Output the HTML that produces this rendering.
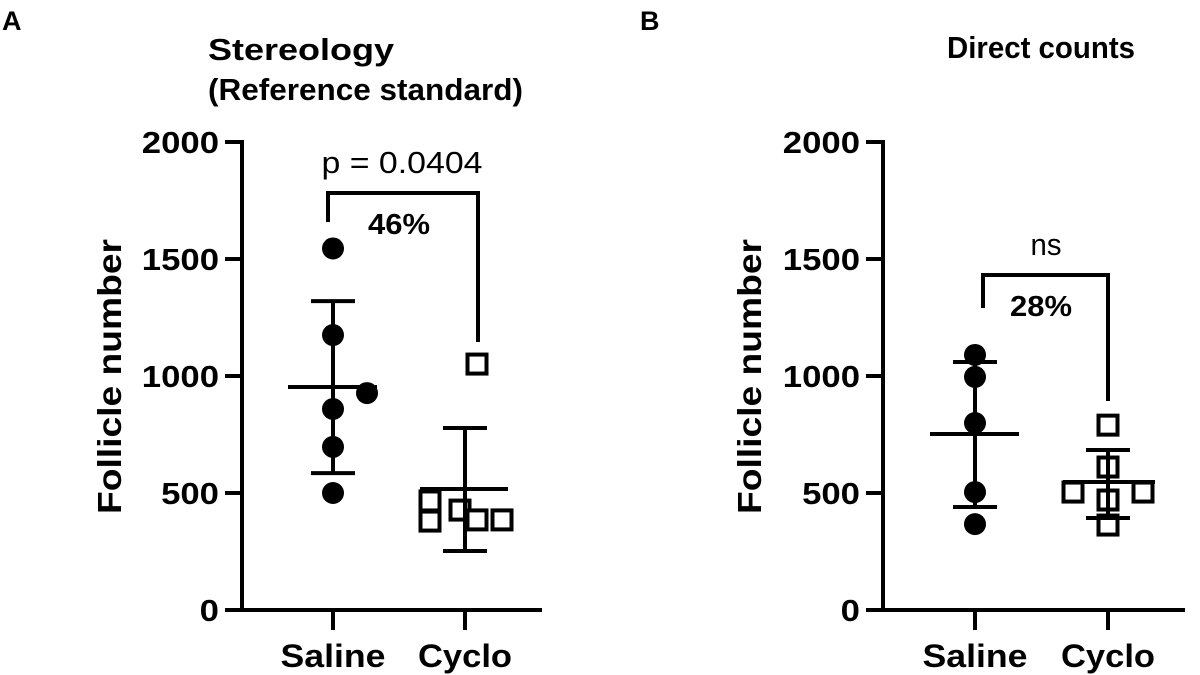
<!DOCTYPE html>
<html><head><meta charset="utf-8"><style>
body{margin:0;background:#fff}
svg{display:block;font-family:"Liberation Sans",sans-serif}
</style></head><body>
<svg id="c" width="1200" height="675" viewBox="0 0 1200 675">
<text x="2" y="30" font-size="27" font-weight="bold">A</text>
<text x="640" y="30" font-size="27" font-weight="bold">B</text>
<text x="208" y="60" font-size="31" font-weight="bold" textLength="186" lengthAdjust="spacingAndGlyphs">Stereology</text>
<text x="208" y="100" font-size="31" font-weight="bold" textLength="315" lengthAdjust="spacingAndGlyphs">(Reference standard)</text>
<text x="947" y="58" font-size="31" font-weight="bold" textLength="188" lengthAdjust="spacingAndGlyphs">Direct counts</text>
</svg>
<script>
const yTicks=[0,500,1000,1500,2000];
const categories=["Saline","Cyclo"];
const aSaline=[1545,1175,927,859,697,500];
const aSalineDx=[0,0,34,0,0,0];
const aCyclo=[1051,466,380,427,385,385];
const aCycloDx=[12,-35,-35,-5,12,37];
const aMean=[953,517];
const aSD=[[585,1320],[252,778]];
const bSaline=[1090,996,799,504,367];
const bCyclo=[790,611,470,363,504,504];
const bCycloDx=[0,0,0,0,-35,35];
const bMean=[752,547];
const bSD=[[440,1060],[393,684]];

const svg=document.getElementById('c');
const NS='http://www.w3.org/2000/svg';
function mk(t,a,txt){const e=document.createElementNS(NS,t);for(const k in a)e.setAttribute(k,a[k]);if(txt!==undefined)e.textContent=txt;svg.appendChild(e);return e;}
const y0=610,y1=142;
function yS(v){return y0-(v/2000)*(y0-y1);}
const catW={Saline:105,Cyclo:94};

function panel(p){
  const ax=p.ax, xs=p.xs;
  let e=mk('path',{d:`M${ax} ${y1-2}V${y0}H${p.xEnd}`,fill:'none',stroke:'#000','stroke-width':4});
  
  
  yTicks.forEach(t=>{
    let l=mk('line',{x1:ax-17,x2:ax,y1:yS(t),y2:yS(t),stroke:'#000','stroke-width':4});
    
    
    const s=String(t);
    let tx=mk('text',{x:ax-23,y:yS(t)+11,'font-size':31,'font-weight':'bold','text-anchor':'end',textLength:s.length*19.3,lengthAdjust:'spacingAndGlyphs'},s);
    
    
  });
  categories.forEach((c,i)=>{
    let l=mk('line',{x1:xs[i],x2:xs[i],y1:y0,y2:y0+20,stroke:'#000','stroke-width':4});
    
    
    let tx=mk('text',{x:xs[i]-catW[c]/2,y:667,'font-size':32,'font-weight':'bold',textLength:catW[c],lengthAdjust:'spacingAndGlyphs'},c);
    
    
  });
  let yt=mk('text',{x:-137,y:0,'font-size':33,'font-weight':'bold',textLength:275,lengthAdjust:'spacingAndGlyphs',transform:`translate(${p.ytx},377) rotate(-90)`},'Follicle number');
  
  
  p.sal.forEach((v,i)=>{
    let c=mk('circle',{cx:xs[0]+(p.salDx?p.salDx[i]:0),cy:yS(v),r:11,fill:'#000'});
    
    
  });
  p.cyc.forEach((v,i)=>{
    let r=mk('rect',{x:xs[1]+p.cycDx[i]-9.5,y:yS(v)-9.5,width:19,height:19,fill:'#fff',stroke:'#000','stroke-width':4});
    
    
  });
  [0,1].forEach(i=>{
    const x=xs[i], hw=p.meanHW[i];
    let l=mk('line',{x1:x,x2:x,y1:yS(p.sd[i][0]),y2:yS(p.sd[i][1]),stroke:'#000','stroke-width':4});
    
    
    [0,1].forEach(j=>{
      let cp=mk('line',{x1:x-22,x2:x+22,y1:yS(p.sd[i][j]),y2:yS(p.sd[i][j]),stroke:'#000','stroke-width':4});
      
      
    });
    let m=mk('line',{x1:x-hw[0],x2:x+hw[1],y1:yS(p.mean[i]),y2:yS(p.mean[i]),stroke:'#000','stroke-width':4});
    
    
  });
  const b=p.br;
  let br=mk('path',{d:`M${b.l} ${b.ly}V${b.top}H${b.r}V${b.ry}`,fill:'none',stroke:'#000','stroke-width':4});
  
  
  let st=mk('text',{x:b.sx-b.sw/2,y:b.top-20,'font-size':31,textLength:b.sw,lengthAdjust:'spacingAndGlyphs'},p.stat);
  
  
  let pc=mk('text',{x:b.pcx-31,y:b.top+41,'font-size':29,'font-weight':'bold',textLength:62,lengthAdjust:'spacingAndGlyphs'},p.pct);
  
  
}
panel({id:'panel-a',ax:242,xEnd:542,xs:[333,465],ytx:121,sal:aSaline,salDx:aSalineDx,cyc:aCyclo,cycDx:aCycloDx,
  mean:aMean,sd:aSD,meanHW:[[45,44],[45,43]],
  br:{l:328,r:478,top:193,ly:222,ry:342,pcx:399,sx:402,sw:161},stat:'p = 0.0404',pct:'46%'});
panel({id:'panel-b',ax:883,xEnd:1185,xs:[975,1108],ytx:761,sal:bSaline,cyc:bCyclo,cycDx:bCycloDx,
  mean:bMean,sd:bSD,meanHW:[[45,44],[45,47]],
  br:{l:983,r:1108,top:275,ly:308,ry:401,pcx:1041,sx:1046,sw:31},stat:'ns',pct:'28%'});
</script>
</body></html>
